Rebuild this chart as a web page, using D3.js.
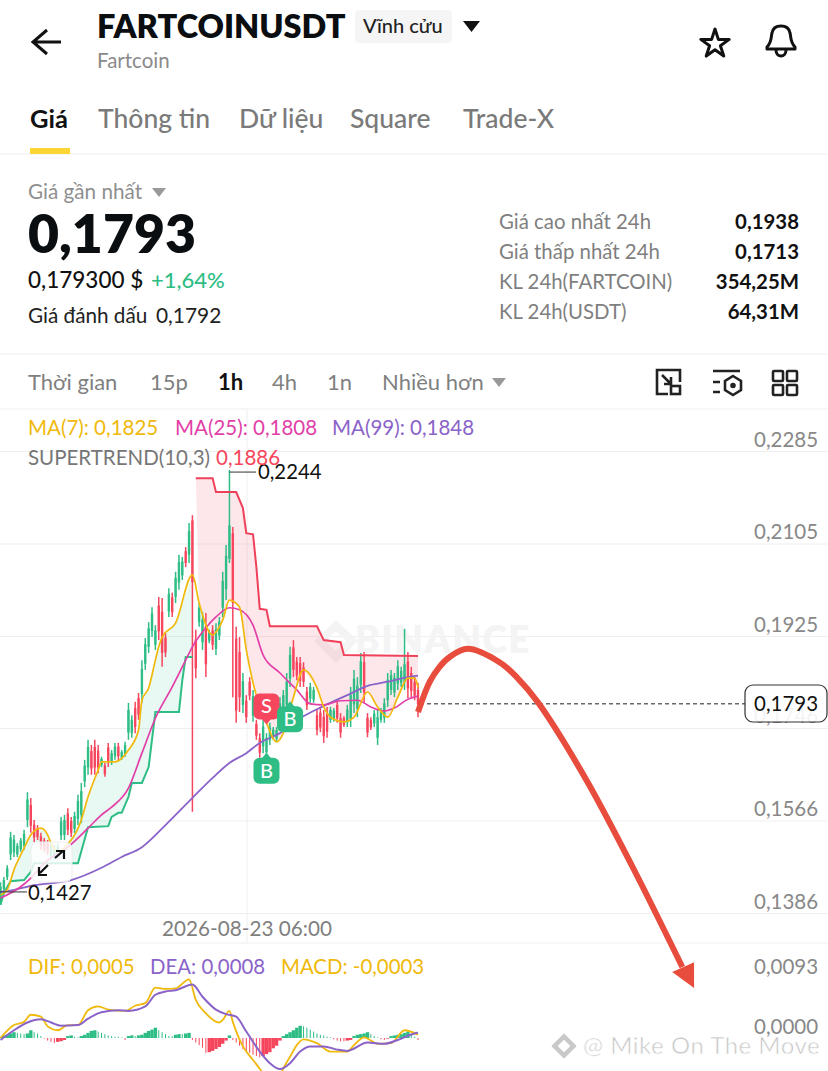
<!DOCTYPE html>
<html lang="vi">
<head>
  <meta charset="UTF-8">
  <title>FARTCOINUSDT</title>
  <style>
    html, body {
      margin: 0;
      overflow: hidden;
      width: 828px;
      height: 1071px;
      background: #fff;
    }
    svg {
      position: absolute;
      top: 0;
      left: 0;
      font-family: Lato, sans-serif;
    }
  </style>
</head>
<body>
  <svg width="828" height="1071"></svg>
</body>
<script src="https://d3js.org/d3.v7.min.js"></script>
<script type="text/javascript">
  // all prices are in units of 0.0001, one entry per hourly candle
  const highs = [1446,1456,1479,1544,1538,1522,1532,1548,1621,1610,1567,1557,1542,1532,1528,1522,1518,1522,1573,1577,1590,1573,1583,1616,1639,1684,1723,1713,1723,1713,1690,1678,1717,1703,1717,1717,1703,1719,1795,1771,1797,1814,1878,1921,1952,1981,1946,2001,1999,1931,2018,2009,2050,2083,2079,2098,2145,2160,1937,1989,1972,1970,1937,1946,1950,1962,2050,2102,2248,2137,1943,1923,1853,1810,1845,1820,1762,1736,1762,1736,1756,1748,1748,1806,1820,1853,1904,1917,1884,1884,1874,1826,1834,1826,1781,1785,1781,1787,1787,1785,1800,1775,1769,1791,1826,1859,1845,1892,1894,1775,1767,1781,1781,1785,1804,1853,1859,1853,1878,1865,1939,1894,1865,1845,1834]
  const lows = [1402,1427,1450,1489,1495,1495,1505,1509,1553,1542,1524,1528,1509,1505,1499,1489,1489,1493,1528,1528,1538,1534,1542,1557,1561,1631,1655,1655,1655,1658,1670,1651,1670,1674,1684,1684,1684,1690,1723,1727,1736,1762,1795,1859,1892,1923,1898,1917,1865,1884,1962,1962,1989,2015,2034,2059,2067,1583,1843,1943,1898,1845,1911,1898,1888,1917,1962,1995,2067,1806,1756,1777,1775,1756,1800,1758,1723,1688,1697,1690,1713,1723,1719,1748,1771,1775,1826,1845,1839,1826,1826,1781,1795,1795,1732,1738,1717,1727,1756,1758,1756,1727,1748,1748,1748,1775,1767,1814,1795,1728,1742,1748,1713,1756,1756,1787,1810,1806,1820,1826,1820,1804,1806,1800,1767]
  const opens = [1411,1433,1456,1500,1504,1500,1510,1517,1567,1596,1558,1551,1535,1527,1522,1496,1495,1499,1537,1538,1580,1565,1550,1569,1577,1642,1669,1701,1709,1702,1674,1673,1708,1680,1691,1710,1688,1696,1737,1736,1785,1804,1812,1871,1904,1935,1908,1984,1972,1922,1973,2000,2001,2029,2043,2090,2083,2150,1918,1952,1913,1945,1916,1936,1900,1926,1980,2016,2075,2125,1920,1894,1791,1799,1836,1770,1754,1726,1710,1699,1722,1728,1725,1760,1781,1791,1842,1903,1875,1872,1864,1817,1803,1801,1771,1776,1768,1775,1762,1763,1791,1765,1765,1757,1764,1792,1783,1830,1874,1766,1762,1755,1727,1762,1766,1800,1820,1815,1832,1834,1835,1875,1853,1836,1820]
  const closes = [1437,1450,1473,1533,1529,1517,1527,1540,1607,1556,1533,1534,1516,1510,1505,1515,1512,1516,1564,1567,1548,1542,1575,1604,1623,1673,1709,1667,1669,1669,1686,1656,1679,1697,1710,1691,1699,1713,1781,1762,1748,1772,1861,1909,1940,1969,1936,1934,1892,1893,2007,1971,2038,2069,2070,2067,2129,2030,1862,1980,1957,1870,1932,1908,1938,1953,2032,2081,2140,1990,1780,1806,1837,1767,1809,1808,1731,1698,1749,1727,1747,1743,1742,1794,1810,1837,1888,1859,1848,1838,1836,1790,1826,1820,1742,1747,1730,1739,1781,1780,1765,1737,1752,1782,1810,1842,1829,1876,1815,1737,1747,1774,1767,1779,1794,1840,1849,1844,1866,1857,1870,1823,1818,1809,1793]

  const ma7Idx = [0,2,4,7,9,12,14,15,17,19,24,26,29,30,34,38,41,42,44,46,47,48,52,57,59,63,65,66,68,71,73,75,79,82,84,87,90,94,96,98,102,105,109,112,115,118,121,123,124]
  const ma7Vals = [1421,1431,1470,1512,1538,1551,1538,1522,1505,1514,1567,1612,1664,1680,1680,1703,1742,1800,1824,1878,1904,1923,1950,2044,1989,1927,1943,1956,1995,1981,1898,1834,1756,1719,1736,1806,1859,1824,1787,1767,1758,1767,1816,1787,1767,1806,1843,1843,1825]
  const ma25Idx = [0,6,9,13,20,26,30,33,38,42,46,51,55,57,61,64,68,71,75,78,83,88,92,96,101,106,110,114,117,121,124]
  const ma25Vals = [1415,1437,1454,1483,1514,1551,1577,1592,1629,1697,1765,1826,1878,1904,1941,1962,1980,1976,1946,1888,1853,1820,1793,1791,1799,1800,1787,1779,1785,1802,1808]
  const ma99Idx = [0,4,10,21,30,36,42,49,57,63,68,73,77,83,89,96,103,109,115,121,124]
  const ma99Vals = [1427,1431,1440,1450,1474,1495,1514,1557,1610,1649,1678,1697,1717,1736,1765,1789,1810,1828,1836,1845,1848]

  const stUpIdx = [0,1,3,7,9,10,23,26,32,33,35,36,38,39,42,44,46,53,54,55,57]
  const stUpVals = [1402,1425,1448,1450,1466,1483,1483,1553,1555,1573,1581,1581,1612,1639,1639,1670,1777,1777,1839,1884,1884]
  const stDownIdx = [58,63,64,70,72,73,75,76,77,79,80,94,96,101,102,124]
  const stDownVals = [2232,2232,2205,2205,2174,2125,2123,2059,1978,1976,1944,1944,1917,1913,1888,1886]

  const difIdx = [0,4,7,9,12,14,17,20,23,26,29,32,37,40,43,46,49,52,56,58,61,65,66,68,69,72,75,78,79,82,84,86,88,90,94,98,103,105,108,112,116,120,124]
  const difVals = [0,20,25,36,33,18,12,20,20,43,49,44,42,50,54,78,76,77,91,59,38,24,28,42,25,-13,-34,-55,-63,-70,-47,-29,-11,-2,-8,-21,-21,-11,1,-9,-8,12,5]
  const deaIdx = [0,4,8,12,15,18,23,26,30,35,38,43,46,49,52,57,60,64,67,70,73,77,80,83,86,89,92,96,100,103,109,114,118,123,124]
  const deaVals = [-3,12,24,29,24,19,20,30,40,43,42,49,67,72,74,83,64,44,37,33,10,-21,-39,-48,-39,-21,-13,-13,-18,-20,-7,-9,-3,7,8]
  const histVals = [2,4,5,7,9,8,7,6,7,12,9,7,3,-1,-4,-6,-8,-6,-5,-3,3,4,2,1,3,5,8,11,12,10,8,6,4,3,2,2,1,-3,3,4,3,4,5,8,11,13,16,12,9,6,3,3,5,6,6,7,8,-3,-7,-11,-15,-23,-22,-20,-17,-14,-9,-4,4,-3,-7,-12,-17,-20,-23,-26,-28,-30,-28,-25,-22,-16,-12,-4,3,6,9,12,16,19,18,16,13,10,7,5,4,2,1,-2,-4,-5,-5,-4,-3,3,5,6,7,9,6,3,1,-2,-3,-1,3,4,5,6,8,10,6,2,-3]

  const priceTicks = [2285,2105,1925,1746,1566,1386]
  const macdTicks = [93,0]
  const signalIdx = [79,86,79]
  const signalVals = [1787,1762,1662]
  const signalTypes = ['S','B','B']

  // the hand drawn forecast arrow on top of the screenshot, candle index / price
  const arrowIdx = [124,127.5,130.4,133.4,138.7,148.2,153.3,159.5,174,187.7,202.5]
  const arrowVals = [1777,1836,1865,1884,1900,1874,1845,1797,1645,1476,1281]
  const arrowHeadIdx = [199.5,206,206]
  const arrowHeadVals = [1271,1290,1240]

  const lastPrice = 1793
  const green = '#2ebd85', red = '#f6465d', yellow = '#f0b90b', pink = '#e23fa8', purple = '#8a63c9'

  const svg = d3.select('svg')
  const width = 828

  const x = d3.scaleLinear().domain([0, 124]).range([0.5, 418])
  const y = d3.scaleLinear().domain([1386, 2285]).range([913, 451])
  const yMacd = d3.scaleLinear().domain([0, 93]).range([1038, 978])
  const fmt = v => (v / 10000).toFixed(4).replace('.', ',')

  const text = (px, py, str, fill = '#111', size = 20, weight = 400, anchor = 'start') =>
    svg.append('text').attr('x', px).attr('y', py).attr('fill', fill)
      .attr('font-size', size).attr('font-weight', weight).attr('text-anchor', anchor).text(str)
  const hline = (py, color = '#efefef') =>
    svg.append('line').attr('x1', 0).attr('x2', width).attr('y1', py).attr('y2', py).attr('stroke', color)
  const zip = (idx, vals) => idx.map((d, i) => [d, vals[i]])

  // header
  svg.append('path').attr('d', 'M61,42H34M47,30L33,42L47,54').attr('fill', 'none').attr('stroke', '#111').attr('stroke-width', 3)
  text(97, 38, 'FARTCOINUSDT', '#0b0e11', 32.5, 800)
  svg.append('rect').attr('x', 355).attr('y', 10).attr('width', 97).attr('height', 33).attr('rx', 4).attr('fill', '#f5f5f5')
  text(363, 33, 'Vĩnh cửu', '#222', 20, 500)
  svg.append('path').attr('d', 'M463,21H480L471.5,32Z').attr('fill', '#111')
  text(97, 68, 'Fartcoin', '#8a8a8a', 20.5)
  svg.append('path').attr('transform', 'translate(715,44)').attr('d', d3.symbol(d3.symbolStar, 250)())
    .attr('fill', 'none').attr('stroke', '#111').attr('stroke-width', 3).attr('stroke-linejoin', 'round')
  svg.append('path').attr('d', 'M767,47C772,42 771,36 772,33C773,27 777,26 781,26C785,26 789,27 790,33C791,36 790,42 795,47L795,49H767ZM776,50C776,58 786,58 786,50')
    .attr('fill', 'none').attr('stroke', '#111').attr('stroke-width', 3).attr('stroke-linejoin', 'round')

  // tabs
  const tabs = [['Giá', 30], ['Thông tin', 98], ['Dữ liệu', 239], ['Square', 350], ['Trade-X', 463]]
  tabs.forEach((t, i) => text(t[1], 128, t[0], i === 0 ? '#111' : '#7a7a7a', i === 0 ? 25.5 : 26.5, i === 0 ? 700 : 500))
  hline(154)
  svg.append('rect').attr('x', 30).attr('y', 148).attr('width', 40).attr('height', 6).attr('fill', '#fcd535')

  // price block
  text(28, 199, 'Giá gần nhất', '#8f8f8f', 20.7)
  svg.append('path').attr('d', 'M152,188H166L159,197Z').attr('fill', '#999')
  text(28, 253, '0,1793', '#0b0e11', 53.5, 800)
  text(28, 288, '0,179300 $', '#111', 22.5, 500)
  text(151, 288, '+1,64%', green, 22, 500)
  text(28, 323, 'Giá đánh dấu', '#222', 20.7)
  text(156, 323, '0,1792', '#222', 20.9)
  const statLabels = ['Giá cao nhất 24h', 'Giá thấp nhất 24h', 'KL 24h(FARTCOIN)', 'KL 24h(USDT)']
  const statVals = ['0,1938', '0,1713', '354,25M', '64,31M']
  statLabels.forEach((s, i) => {
    text(499, 229 + i * 30, s, '#7f7f7f', 20.4)
    text(799, 229 + i * 30, statVals[i], '#111', 20.4, 700, 'end')
  })
  hline(354)

  // toolbar
  const periods = [['Thời gian', 28, 0], ['15p', 150, 0], ['1h', 218, 1], ['4h', 272, 0], ['1n', 327, 0], ['Nhiều hơn', 382, 0]]
  periods.forEach(p => text(p[1], 390, p[0], p[2] ? '#111' : '#7f7f7f', 22, p[2] ? 700 : 400))
  svg.append('path').attr('d', 'M492,378H506L499,387Z').attr('fill', '#999')
  const icons = svg.append('g').attr('fill', 'none').attr('stroke', '#222').attr('stroke-width', 2.6)
  icons.append('path').attr('d', 'M665,370H680V382M668,394H657V370H665M662,375L671,384M671,377V384H664')
  icons.append('rect').attr('x', 671).attr('y', 386).attr('width', 9).attr('height', 8)
  icons.append('path').attr('d', 'M713,371H740M713,382H720M713,392H720M733,376L741,381V390L733,395L725,390V381Z')
  icons.append('circle').attr('cx', 733).attr('cy', 385.5).attr('r', 1.5).attr('fill', '#222')
  ;[[773, 371], [787, 371], [773, 385], [787, 385]].forEach(p =>
    icons.append('rect').attr('x', p[0]).attr('y', p[1]).attr('width', 10).attr('height', 10).attr('rx', 1))
  hline(409)

  // chart grid and price axis
  const axisPrice = d3.axisRight(y).tickValues(priceTicks).tickSize(width).tickFormat(fmt)
  const gPrice = svg.append('g').call(axisPrice)
  gPrice.select('.domain').remove()
  gPrice.selectAll('line').attr('stroke', '#efefef')
  gPrice.selectAll('text').attr('x', 754).attr('dy', -5).attr('fill', '#888').attr('font-size', 20.5).attr('font-family', 'Lato')
  svg.append('line').attr('x1', 247).attr('x2', 247).attr('y1', 409).attr('y2', 943).attr('stroke', '#efefef')
  hline(943)
  text(247, 936, '2026-08-23 06:00', '#7f7f7f', 20.7, 400, 'middle')

  // BINANCE watermark
  const wm = svg.append('g').attr('fill', '#f4f4f4')
  wm.append('text').attr('x', 355).attr('y', 653).attr('font-size', 37).attr('font-weight', 800).attr('letter-spacing', 1.5).text('BINANCE')
  wm.append('path').attr('d', 'M336,620L358,641L336,663L314,641ZM336,631L326,641L336,651L346,641Z').attr('fill-rule', 'evenodd')

  // supertrend fills, bounded by the fast average
  const ma7 = zip(ma7Idx, ma7Vals)
  const stUp = zip(stUpIdx, stUpVals)
  const stDown = zip(stDownIdx, stDownVals)
  const line = d3.line().x(d => x(d[0])).y(d => y(d[1]))
  const smooth = d3.line().x(d => x(d[0])).y(d => y(d[1])).curve(d3.curveMonotoneX)
  const macdSmooth = d3.line().x(d => x(d[0])).y(d => yMacd(d[1])).curve(d3.curveMonotoneX)
  svg.append('path').attr('d', line(stUp.concat(ma7.filter(d => d[0] <= 57).reverse()))).attr('fill', '#2ebd85').attr('opacity', 0.11)
  svg.append('path').attr('d', line(stDown.concat(ma7.filter(d => d[0] >= 58).reverse()))).attr('fill', '#f6465d').attr('opacity', 0.13)

  // candles
  const candles = svg.append('g').selectAll('g').data(highs).enter().append('g')
    .attr('fill', (d, i) => closes[i] >= opens[i] ? green : red)
    .attr('stroke', (d, i) => closes[i] >= opens[i] ? green : red)
  candles.append('line').attr('x1', (d, i) => x(i)).attr('x2', (d, i) => x(i))
    .attr('y1', (d, i) => y(highs[i])).attr('y2', (d, i) => y(lows[i])).attr('stroke-width', 1.5)
  candles.append('rect').attr('stroke', 'none').attr('x', (d, i) => x(i) - 1.2).attr('width', 2.4)
    .attr('y', (d, i) => y(Math.max(opens[i], closes[i])))
    .attr('height', (d, i) => Math.abs(y(opens[i]) - y(closes[i])))

  // indicator lines
  const drawLine = (gen, pts, color, w) => svg.append('path').attr('d', gen(pts)).attr('fill', 'none').attr('stroke', color).attr('stroke-width', w)
  drawLine(line, stUp, green, 2)
  drawLine(line, stDown, '#f0415a', 2)
  drawLine(smooth, zip(ma99Idx, ma99Vals), purple, 1.8)
  drawLine(smooth, zip(ma25Idx, ma25Vals), pink, 1.7)
  drawLine(smooth, ma7, yellow, 1.7)

  // buy and sell flags, the pointer sits towards the candle
  signalTypes.forEach((t, i) => {
    const cx = x(signalIdx[i]), cy = y(signalVals[i]) - 0.5
    const tip = t === 'S' ? 1 : -1
    svg.append('path').attr('d', `M${cx - 5},${cy + tip * 12}L${cx},${cy + tip * 18}L${cx + 5},${cy + tip * 12}Z`)
      .attr('fill', t === 'S' ? red : green)
    svg.append('rect').attr('x', cx - 13).attr('y', cy - 13).attr('width', 26).attr('height', 26).attr('rx', 6)
      .attr('fill', t === 'S' ? red : green)
    svg.append('text').attr('x', cx).attr('y', cy + 7).attr('text-anchor', 'middle').attr('fill', '#fff')
      .attr('font-size', 20).attr('font-weight', 500).text(t)
  })

  // high and low callouts
  svg.append('line').attr('x1', x(68)).attr('x2', 256).attr('y1', y(2244)).attr('y2', y(2244)).attr('stroke', '#333')
  text(258, y(2244) + 7, fmt(2244), '#111', 20.3)
  svg.append('line').attr('x1', 0).attr('x2', 27).attr('y1', y(1427)).attr('y2', y(1427)).attr('stroke', '#333')
  text(28, y(1427) + 8, fmt(1427), '#111', 20.3)

  // resize handle
  svg.append('rect').attr('x', 31).attr('y', 842).attr('width', 41).attr('height', 40).attr('rx', 7)
    .attr('fill', '#fff').attr('fill-opacity', 0.82).attr('stroke', '#eee')
  svg.append('path').attr('d', 'M40,873L48,865M55,858L63,851M39,867V875H47M56,851H64V859').attr('fill', 'none').attr('stroke', '#111').attr('stroke-width', 2.2)

  // legends
  text(28, 435, 'MA(7): ' + fmt(ma7Vals[ma7Vals.length - 1]), yellow, 20.5)
  text(175, 435, 'MA(25): ' + fmt(ma25Vals[ma25Vals.length - 1]), pink, 20.5)
  text(332, 435, 'MA(99): 0,1848', purple, 20.5)
  text(28, 465, 'SUPERTREND(10,3)', '#777', 20.5)
  text(216, 465, fmt(stDownVals[stDownVals.length - 1]), red, 20.5)

  // last price
  svg.append('line').attr('x1', 420).attr('x2', 745).attr('y1', y(lastPrice)).attr('y2', y(lastPrice))
    .attr('stroke', '#222').attr('stroke-dasharray', '4,3')
  svg.append('rect').attr('x', 745).attr('y', 685).attr('width', 82).attr('height', 37).attr('rx', 8)
    .attr('fill', '#fff').attr('fill-opacity', 0.9).attr('stroke', '#333').attr('stroke-width', 1.2)
  text(754, 711, fmt(lastPrice), '#111', 20.5)

  // macd pane
  const axisMacd = d3.axisRight(yMacd).tickValues(macdTicks).tickSize(0).tickFormat(fmt)
  const gMacd = svg.append('g').call(axisMacd)
  gMacd.select('.domain').remove()
  gMacd.selectAll('text').attr('x', 754).attr('dy', -5).attr('fill', '#888').attr('font-size', 20.5).attr('font-family', 'Lato')
  text(28, 974, 'DIF: 0,0005', yellow, 20.4)
  text(150, 974, 'DEA: 0,0008', purple, 20.4)
  text(281, 974, 'MACD: -0,0003', yellow, 20.4)

  const rising = (d, i) => d > (histVals[i - 1] ?? -99)
  svg.append('g').selectAll('rect').data(histVals).enter().append('rect')
    .attr('fill', d => d >= 0 ? green : red)
    .attr('x', (d, i) => x(i) - (rising(d, i) ? 1.7 : 0.5))
    .attr('width', (d, i) => rising(d, i) ? 3.4 : 1)
    .attr('y', d => Math.min(yMacd(d), yMacd(0)))
    .attr('height', d => Math.abs(yMacd(d) - yMacd(0)))
  drawLine(macdSmooth, zip(difIdx, difVals), yellow, 1.8)
  drawLine(macdSmooth, zip(deaIdx, deaVals), purple, 2)

  // forecast arrow
  drawLine(d3.line().x(d => x(d[0])).y(d => y(d[1])).curve(d3.curveCatmullRom), zip(arrowIdx, arrowVals), '#e74c3c', 6)
  svg.append('path').attr('d', line(zip(arrowHeadIdx, arrowHeadVals)) + 'Z').attr('fill', '#e74c3c')

  // repost watermark
  const mark = svg.append('g').attr('fill', '#c9c9c9').attr('stroke', '#fff').attr('stroke-width', 0.6)
  mark.append('text').attr('x', 583).attr('y', 1054).attr('font-size', 24).attr('letter-spacing', 0.5).text('@ Mike On The Move')
  mark.append('path').attr('d', 'M564,1033L577,1046L564,1059L551,1046ZM564,1040L558,1046L564,1052L570,1046Z').attr('fill-rule', 'evenodd')
</script>
</html>
